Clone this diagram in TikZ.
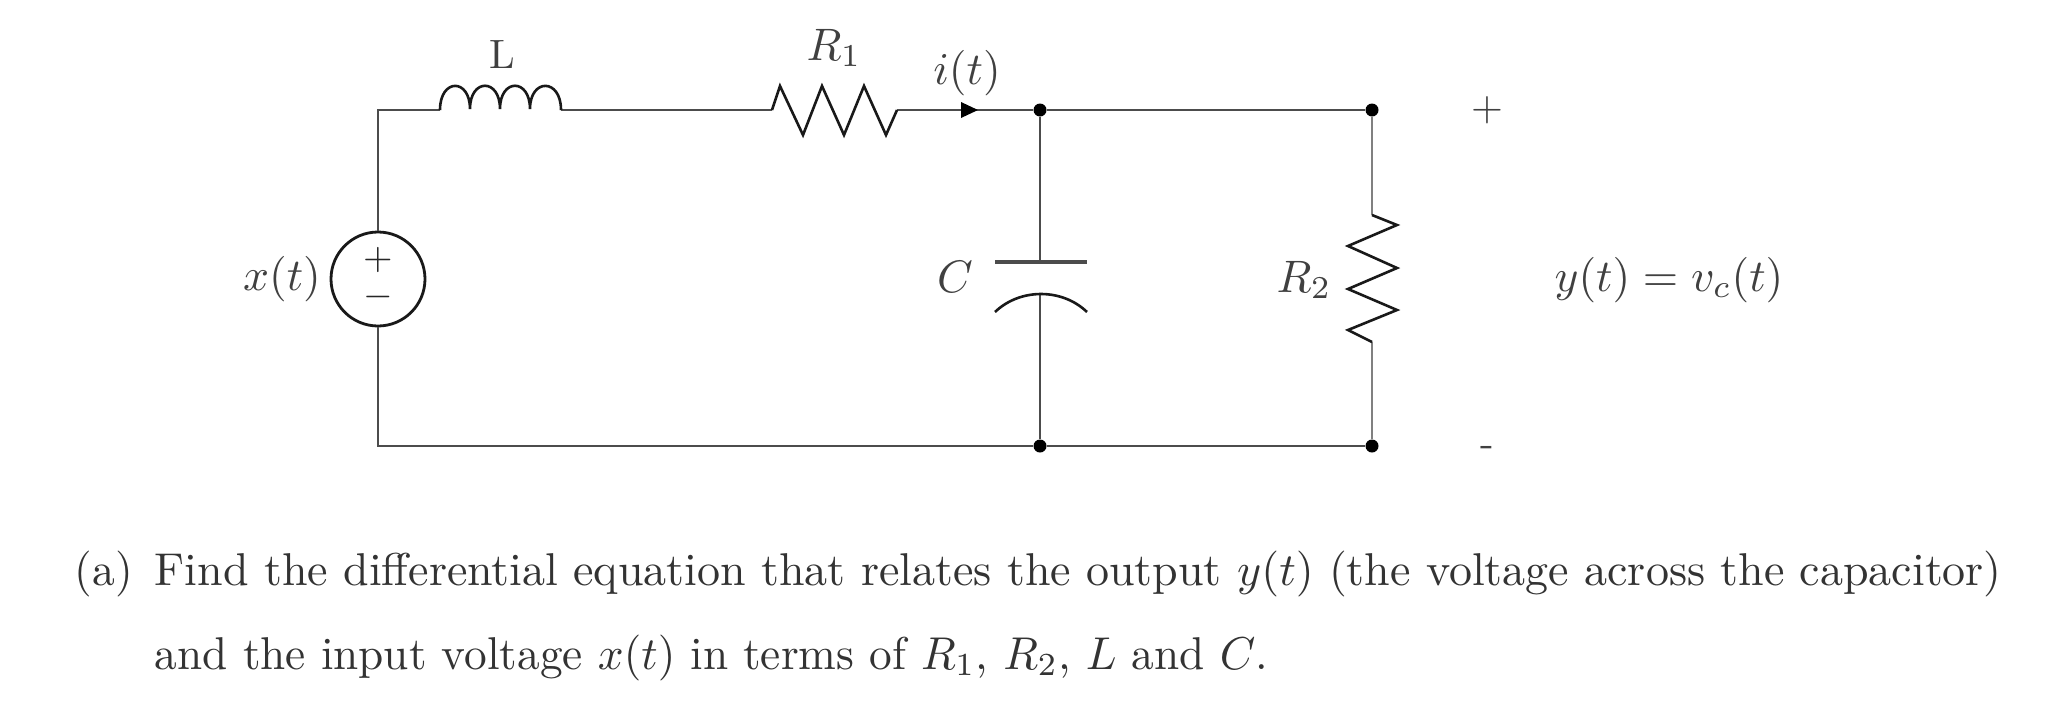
\documentclass[tikz,border=0pt]{standalone}
\usepackage{amsmath}
\usetikzlibrary{arrows.meta}
\tikzset{
  wire/.style={draw=black!70,line width=2.4pt},
  part/.style={draw=black!90,line width=2.6pt,line join=miter},
  dotnode/.style={circle,fill=black,inner sep=0pt,minimum size=13pt},
  lab/.style={anchor=base,text=black!75,inner sep=0pt,scale=4.1},
  sign/.style={anchor=base,text=black!85,inner sep=0pt,scale=3.8},
  mlab/.style={anchor=base,text=black!75,inner sep=0pt,scale=4.55},
  prose/.style={anchor=base west,text=black!80,inner sep=0pt,yscale=4.6},
}
\begin{document}
\begin{tikzpicture}[x=1pt,y=-1pt]
\useasboundingbox (0,0) rectangle (2046,716);
\coordinate (tl) at (378,110);
\coordinate (bl) at (378,446);
\node[circle,draw=black!90,line width=2.8pt,minimum size=94pt,inner sep=0pt] (src) at (378,279) {};
\coordinate (Lin) at (440,110);
\coordinate (Lout) at (561,110);
\coordinate (R1in) at (772,110);
\coordinate (R1out) at (897,110);
\node[dotnode] (t1) at (1040,110) {};
\node[dotnode] (t2) at (1372,110) {};
\node[dotnode] (b1) at (1040,446) {};
\node[dotnode] (b2) at (1372,446) {};
\coordinate (Cp) at (1040,262);
\coordinate (Cn) at (1040,293);
\coordinate (R2t) at (1372,215);
\coordinate (R2b) at (1372,342);
% wires
\draw[wire] (src.north) -- (tl) -- (Lin);
\draw[wire] (Lout) -- (R1in);
\draw[wire] (R1out) -- (t1) -- (t2);
\draw[wire] (src.south) -- (bl) -- (b1) -- (b2);
\draw[wire] (t1) -- (Cp);
\draw[wire] (Cn) -- (b1);
\draw[wire,line width=1.8pt,draw=black!50] (t2) -- (R2t);
\draw[wire,line width=1.8pt,draw=black!50] (R2b) -- (b2);
% inductor
\draw[part] (Lin) .. controls (440,78) and (470,78) .. (470,109)
  .. controls (470,78) and (500,78) .. (500,109)
  .. controls (500,78) and (530,78) .. (530,109)
  .. controls (530,78) and (561,78) .. (Lout);
% R1
\draw[part] (R1in) -- (780,86) -- (803,135) -- (822,86) -- (844,135) -- (864,86) -- (886,135) -- (R1out);
% arrow
\fill[black] (961,102) -- (978,110) -- (961,118) -- cycle;
% capacitor
\draw[part,draw=black!70,line width=3.4pt] (995,262) -- (1087,262);
\draw[part] (995,312) .. controls (1020,288) and (1062,288) .. (1087,312);
% R2
\draw[part] (R2t) -- (1397,225) -- (1348,246) -- (1397,268) -- (1348,289) -- (1397,310) -- (1348,330) -- (R2b);
% source signs
\node[sign] (plus) at (378,269) {$+$};
\node[sign] (minus) at (378,306) {$-$};
% labels
\node[lab] (lL) at (502,68) {L};
\node[mlab] (lR1) at (834,60) {$R_1$};
\node[mlab] (li) at (967,84) {$i(t)$};
\node[mlab] (lx) at (282,290) {$x(t)$};
\node[mlab] (lC) at (955,292) {$C$};
\node[mlab] (lR2) at (1304,292) {$R_2$};
\node[lab] (lp) at (1487,120) {$+$};
\node[lab] (lm) at (1487,456) {-};
\node[mlab] (ly) at (1669,291) {$y(t)=v_c(t)$};
\node[prose,xscale=4.55] (qa) at (74,585) {(a)};
\node[prose,xscale=4.6] (l1) at (154,585) {Find the differential equation that relates the output $y(t)$ (the voltage across the capacitor)};
\node[prose,xscale=4.53] (l2) at (154,669) {and the input voltage $x(t)$ in terms of $R_1$, $R_2$, $L$ and $C$.};
\end{tikzpicture}
\end{document}
